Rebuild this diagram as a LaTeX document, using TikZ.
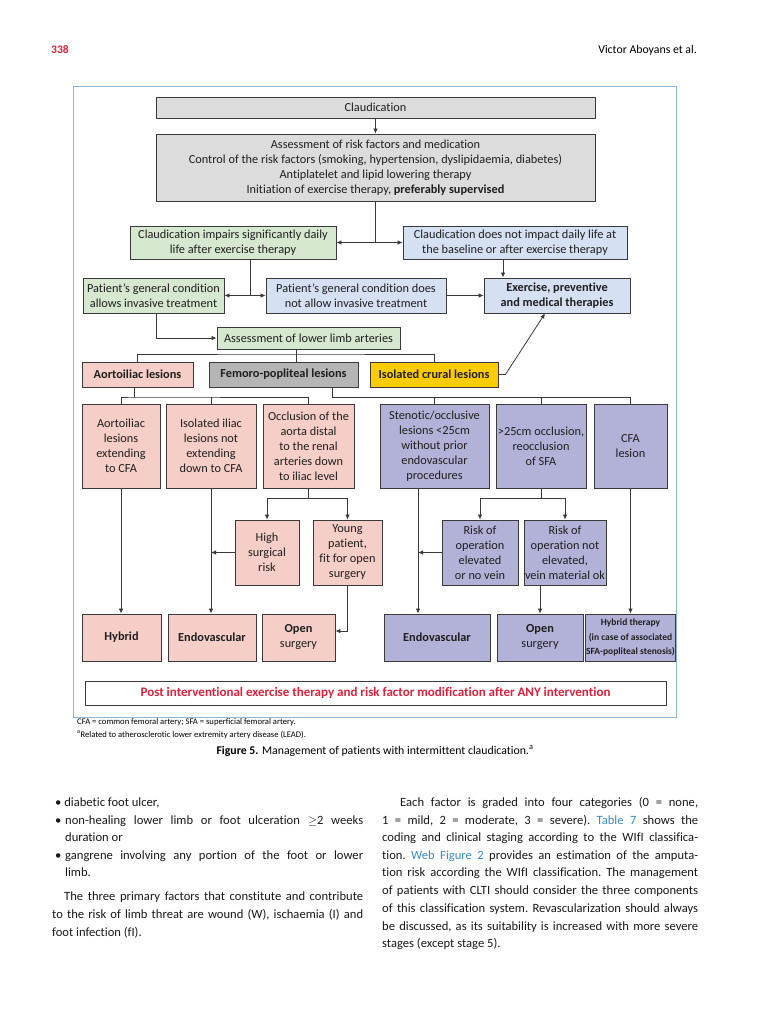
\documentclass[tikz,border=0pt]{standalone}
\usepackage{fontspec}
\setmainfont{Carlito}[Ligatures=NoCommon]
\usetikzlibrary{arrows.meta,calc}
\definecolor{frameblue}{HTML}{8DB8DA}
\definecolor{gbox}{HTML}{DCDCDC}
\definecolor{greenb}{HTML}{D6E8D0}
\definecolor{blueb}{HTML}{D5E0F2}
\definecolor{pinkb}{HTML}{F5CEC7}
\definecolor{femb}{HTML}{B5B5B5}
\definecolor{yelb}{HTML}{FFCC00}
\definecolor{purpb}{HTML}{B2B2D8}
\definecolor{redt}{HTML}{E0203A}
\definecolor{linkb}{HTML}{3B8BC4}
\definecolor{edgec}{HTML}{3A3A3A}
\newcommand\figfont{\fontsize{12.3}{15}\selectfont}
\newcommand\bodyfont{\fontsize{12.6}{14}\selectfont\frenchspacing}
\newcommand\mybox[7][]{%
  \pgfmathsetmacro\bw{#5-#3}\pgfmathsetmacro\bh{#6-#4}%
  \node[box,#1,minimum width=\bw pt,minimum height=\bh pt] (#2) at ({(#3+#5)/2},{(#4+#6)/2}) {#7};}
\newcommand\jl[1]{\makebox[\linew][s]{#1}}
\newlength\linew
\begin{document}
\begin{tikzpicture}[x=1pt,y=-1pt,
  box/.style={draw=edgec,line width=0.9pt,inner sep=1pt,align=center,font=\figfont,text=black!88},
  conn/.style={draw=edgec,line width=0.8pt},
  arr/.style={conn,-{Latex[length=5pt,width=4.5pt]}},
  txt/.style={anchor=base west,inner sep=0pt,font=\bodyfont,text=black!90}]
\useasboundingbox[fill=white] (0,0) rectangle (768,1024);
% header
\node[anchor=base west,inner sep=0pt,font=\fontsize{11.5}{12}\selectfont\bfseries,text=redt] (pg) at (51,54) {338};
\node[anchor=base east,inner sep=0pt,font=\fontsize{11.8}{12}\selectfont] (au) at (697,54) {Victor Aboyans et al.};
% frame
\draw[frameblue,line width=1pt] (73,87) rectangle (676,717);
% boxes
\mybox[fill=gbox]{claud}{156}{97}{595}{118}{Claudication}
\mybox[fill=gbox]{assess}{156}{134}{595}{201}{Assessment of risk factors and medication\\Control of the risk factors (smoking, hypertension, dyslipidaemia, diabetes)\\Antiplatelet and lipid lowering therapy\\Initiation of exercise therapy, \textbf{preferably supervised}}
\mybox[fill=greenb]{imp}{130}{226}{336}{259}{Claudication impairs significantly daily\\life after exercise therapy}
\mybox[fill=blueb]{noimp}{403}{226}{627}{259}{Claudication does not impact daily life at\\the baseline or after exercise therapy}
\mybox[fill=greenb]{allow}{83}{278}{224}{313}{Patient's general condition\\allows invasive treatment}
\mybox[fill=blueb]{notallow}{266}{278}{446}{313}{Patient's general condition does\\not allow invasive treatment}
\mybox[fill=blueb,font=\figfont\bfseries]{ex}{484}{278}{630}{313}{Exercise, preventive\\and medical therapies}
\mybox[fill=greenb]{limb}{217}{327}{400}{349}{Assessment of lower limb arteries}
\mybox[fill=pinkb,font=\figfont\bfseries]{aorto}{82}{362}{193}{387}{Aortoiliac lesions}
\mybox[fill=femb,font=\figfont\bfseries]{femo}{209}{362}{358}{387}{Femoro-popliteal lesions}
\mybox[fill=yelb,font=\figfont\bfseries]{crural}{370}{362}{498}{387}{Isolated crural lesions}
% row 2
\mybox[fill=pinkb]{a1}{82}{404}{160}{488}{Aortoiliac\\lesions\\extending\\to CFA}
\mybox[fill=pinkb]{a2}{166}{404}{256}{488}{Isolated iliac\\lesions not\\extending\\down to CFA}
\mybox[fill=pinkb]{a3}{263}{404}{354}{488}{Occlusion of the\\aorta distal\\to the renal\\arteries down\\to iliac level}
\mybox[fill=purpb]{f1}{380}{404}{489}{488}{Stenotic/occlusive\\lesions <25cm\\without prior\\endovascular\\procedures}
\mybox[fill=purpb]{f2}{496}{404}{586}{488}{>25cm occlusion,\\reocclusion\\of SFA}
\mybox[fill=purpb]{f3}{594}{404}{667}{488}{CFA\\lesion}
% row 3
\mybox[fill=pinkb]{hs}{235}{520}{299}{585}{High\\surgical\\risk}
\mybox[fill=pinkb]{yp}{313}{520}{382}{585}{Young\\patient,\\fit for open\\surgery}
\mybox[fill=purpb]{re}{442}{520}{518}{585}{Risk of\\operation\\elevated\\or no vein}
\mybox[fill=purpb]{rn}{525}{520}{605}{585}{Risk of\\operation not\\elevated,\\vein material ok}
% row 4
\mybox[fill=pinkb,font=\figfont\bfseries]{hy}{82}{614}{161}{661}{Hybrid}
\mybox[fill=pinkb,font=\figfont\bfseries]{en}{168}{614}{256}{661}{Endovascular}
\mybox[fill=pinkb]{op}{262}{614}{335}{661}{\textbf{Open}\\surgery}
\mybox[fill=purpb,font=\figfont\bfseries]{en2}{384}{614}{490}{661}{Endovascular}
\mybox[fill=purpb]{op2}{497}{614}{583}{661}{\textbf{Open}\\surgery}
\mybox[fill=purpb,font=\fontsize{9.5}{14.5}\selectfont\bfseries]{hyt}{590}{614}{671}{661}{Hybrid therapy\\(in case of associated\\SFA-popliteal stenosis)}
\mybox[fill=white,text=redt,font=\fontsize{13}{14}\selectfont\bfseries]{post}{85}{681}{666}{705}{Post interventional exercise therapy and risk factor modification after ANY intervention}
% helper coordinates
\coordinate (x503) at (503,0);
\coordinate (x250) at (250,0);
\coordinate (x156) at (156,0);
\coordinate (h1) at (296,354);
\coordinate (x545) at (545,0);
\coordinate (r2) at (134,397);
\coordinate (r3) at (332,397);
\coordinate (r4) at (0,498);
\coordinate (x418) at (418,0);
\coordinate (y631) at (0,631);
% connectors
\draw[arr] (claud) -- (assess);
\draw[arr] (assess.south) |- (imp.east);
\draw[arr] (assess.south) |- (noimp.west);
\draw[arr] (noimp.south -| x503) -- (ex.north -| x503);
\draw[arr] (imp.south -| x250) |- (allow.east);
\draw[arr] (imp.south -| x250) |- (notallow.west);
\draw[arr] (notallow.east) -- (ex.west);
\draw[arr] (allow.south -| x156) |- (limb.west);
\draw[conn] (limb.south -| h1) -- (h1);
\draw[conn] (aorto.north) |- (h1) -| (crural.north);
\draw[conn] (h1) -- (femo.north -| h1);
\draw[arr] (crural.east) -- ++(7,0) -- (ex.south -| x545);
\draw[conn] (aorto.south -| r2) -- (r2);
\draw[conn] (a1.north) |- (r2) -| (a3.north);
\draw[conn] (r2 -| a2.north) -- (a2.north);
\draw[conn] (femo.south -| r3) -- (r3) -| (f3.north);
\draw[conn] (r3) -| (f1.north);
\draw[conn] (r3) -| (f2.north);
\draw[conn] (a3.south) -- (a3.south |- r4);
\draw[arr] (a3.south |- r4) -| (hs.north);
\draw[arr] (a3.south |- r4) -| (yp.north);
\draw[conn] (f2.south) -- (f2.south |- r4);
\draw[arr] (f2.south |- r4) -| (re.north);
\draw[arr] (f2.south |- r4) -| (rn.north);
\draw[arr] (hs.west) -- (hs.west -| a2.south);
\draw[arr] (re.west) -- (re.west -| x418);
\draw[arr] (a1.south) -- (a1.south |- hy.north);
\draw[arr] (a2.south) -- (a2.south |- en.north);
\draw[arr] (yp.south) -- (yp.south |- y631) -- (op.east |- y631);
\draw[arr] (f1.south -| x418) -- (en2.north -| x418);
\draw[arr] (rn.south -| op2.north) -- (op2.north);
\draw[arr] (f3.south) -- (f3.south |- hyt.north);
% captions
\node[anchor=base west,inner sep=0pt,font=\fontsize{8.6}{9}\selectfont] (c1) at (77,724) {CFA = common femoral artery; SFA = superficial femoral artery.};
\node[anchor=base west,inner sep=0pt,font=\fontsize{8.6}{9}\selectfont] (c2) at (77,737) {\textsuperscript{a}Related to atherosclerotic lower extremity artery disease (LEAD).};
\node[anchor=base,inner sep=0pt,font=\fontsize{11.8}{12}\selectfont] (cap) at (375,754) {\textbf{Figure 5.} Management of patients with intermittent claudication.\textsuperscript{a}};
% left column
\setlength\linew{298pt}
\node[txt] (b1) at (55,806) {\textbullet\ diabetic foot ulcer,};
\node[txt] (b2a) at (55,824) {\textbullet};
\node[txt] (b2) at (65,824) {\jl{non-healing lower limb or foot ulceration $\geq$2 weeks}};
\node[txt] (b2b) at (65,841) {duration or};
\node[txt] (b3a) at (55,859) {\textbullet};
\node[txt] (b3) at (65,859) {\jl{gangrene involving any portion of the foot or lower}};
\node[txt] (b3b) at (65,876) {limb.};
\setlength\linew{299pt}
\node[txt] (p1) at (64,900) {\jl{The three primary factors that constitute and contribute}};
\setlength\linew{311pt}
\node[txt] (p2) at (52,918) {\jl{to the risk of limb threat are wound (W), ischaemia (I) and}};
\node[txt] (p3) at (52,936) {foot infection (fI).};
% right column
\setlength\linew{298pt}
\node[txt] (q1) at (400,806) {\jl{Each factor is graded into four categories (0 = none,}};
\setlength\linew{316pt}
\node[txt] (q2) at (382,824) {\jl{1 = mild, 2 = moderate, 3 = severe). \textcolor{linkb}{Table 7} shows the}};
\node[txt] (q3) at (382,841) {\jl{coding and clinical staging according to the WIfI classifica-}};
\node[txt] (q4) at (382,859) {\jl{tion. \textcolor{linkb}{Web Figure 2} provides an estimation of the amputa-}};
\node[txt] (q5) at (382,876) {\jl{tion risk according the WIfI classification. The management}};
\node[txt] (q6) at (382,894) {\jl{of patients with CLTI should consider the three components}};
\node[txt] (q7) at (382,912) {\jl{of this classification system. Revascularization should always}};
\node[txt] (q8) at (382,930) {\jl{be discussed, as its suitability is increased with more severe}};
\node[txt] (q9) at (382,947) {stages (except stage 5).};
\end{tikzpicture}
\end{document}
